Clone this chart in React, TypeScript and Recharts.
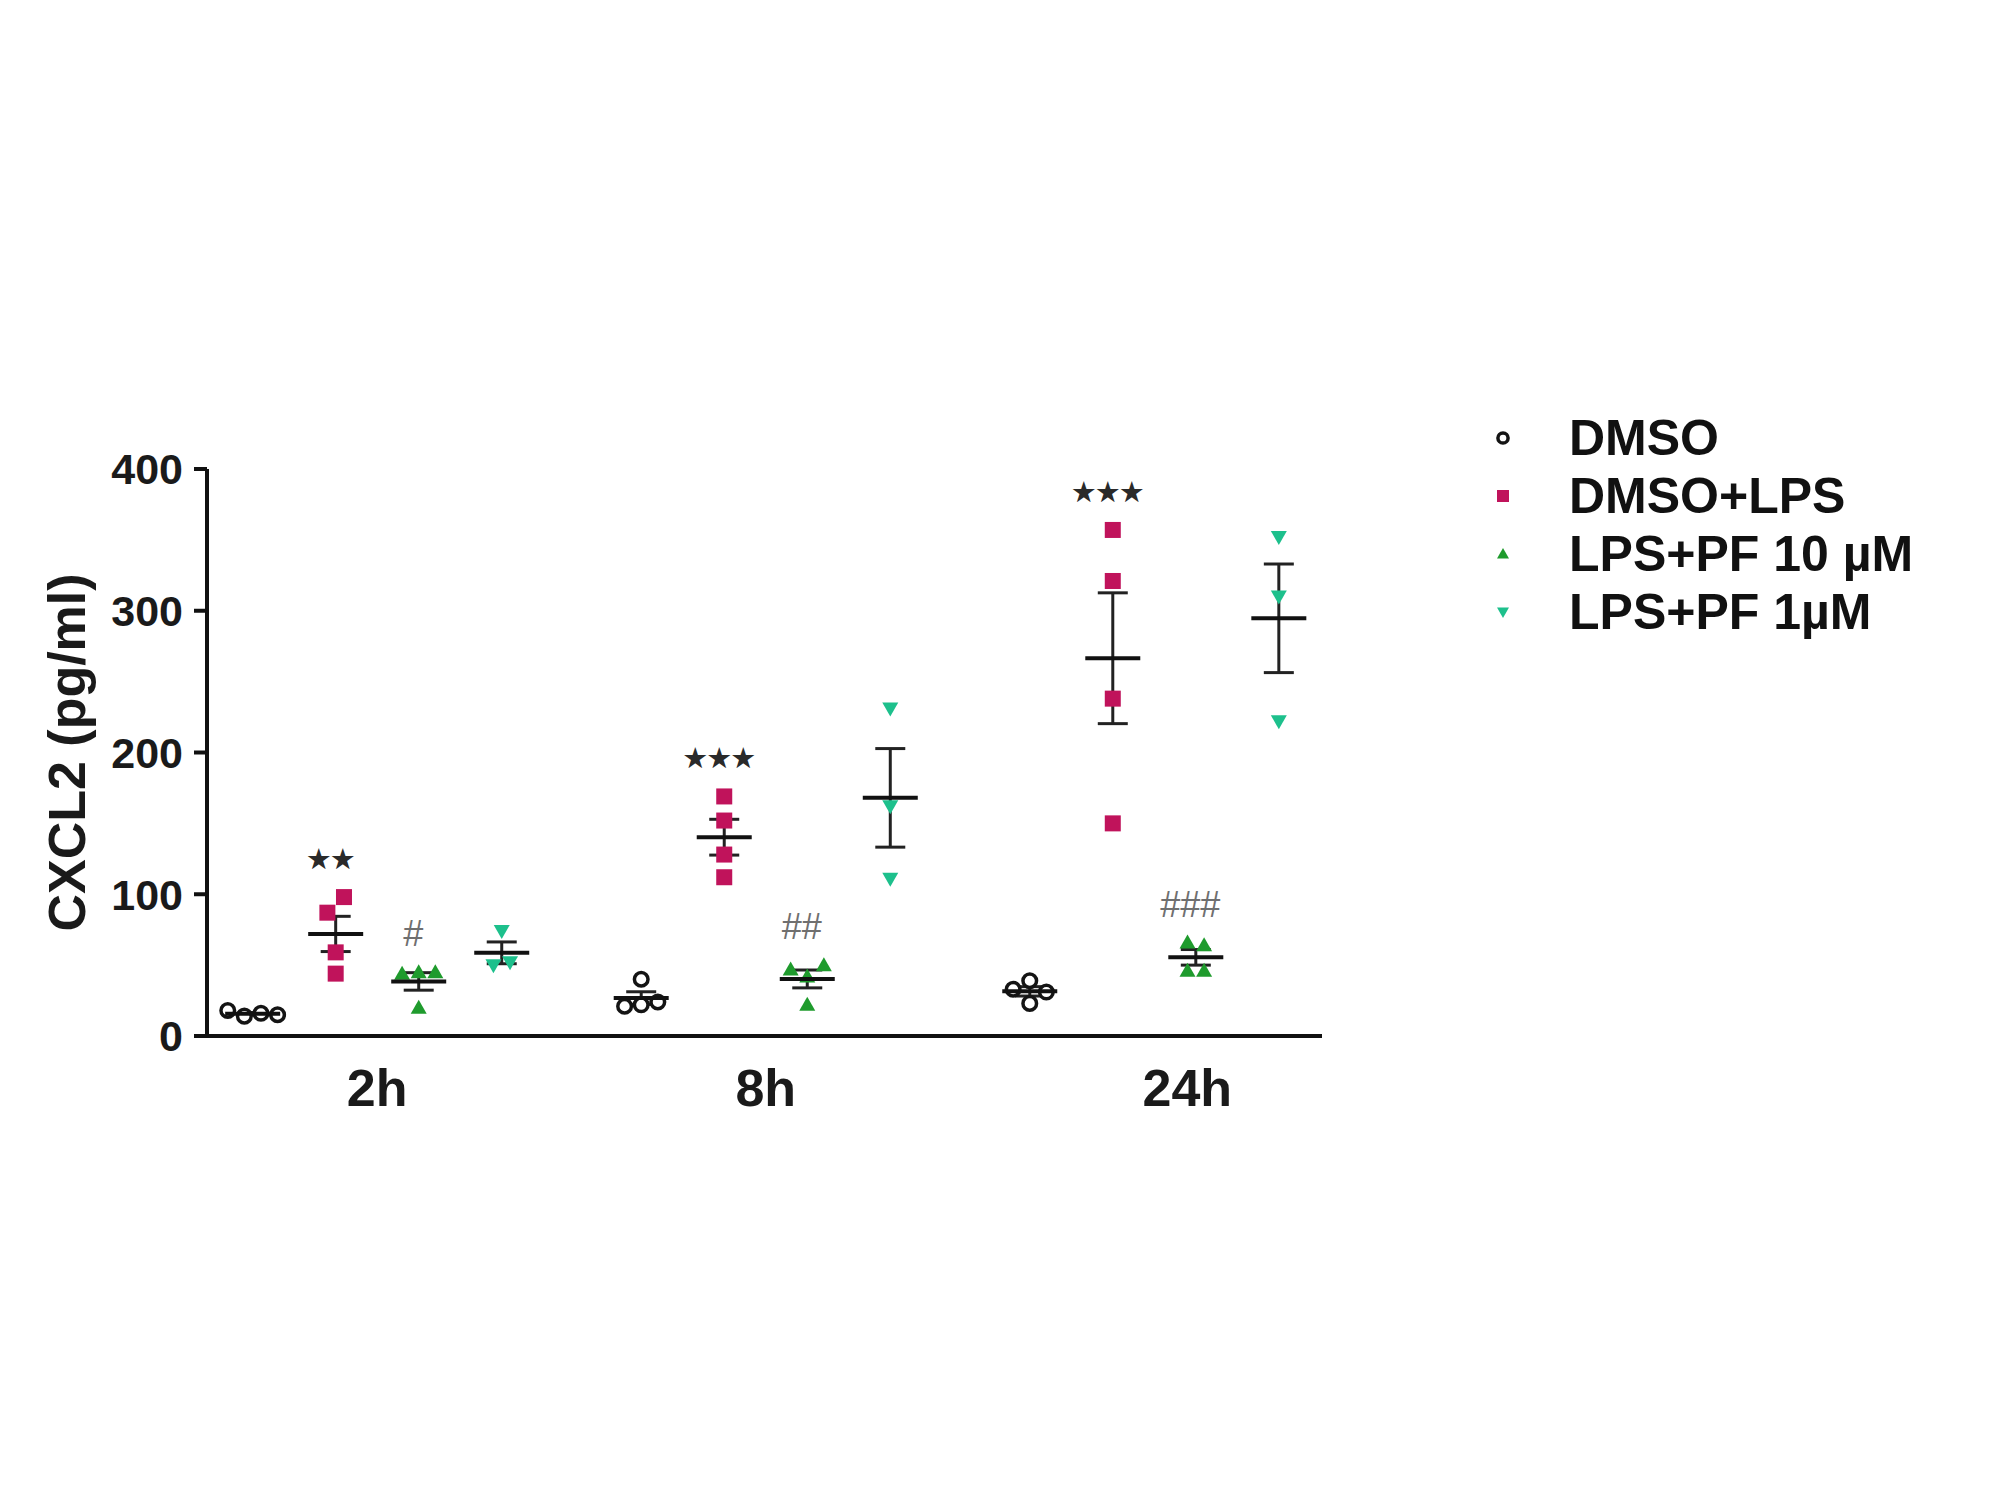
import { ErrorBar, Legend, Scatter, ScatterChart, XAxis, YAxis } from "recharts";

// values (pg/ml), one inner list per time point
const timePoints = ["2h", "8h", "24h"];
const seriesNames = ["DMSO", "DMSO+LPS", "LPS+PF 10 µM", "LPS+PF 1µM"];
const dmso = [
  [16, 14, 15, 18],
  [40, 22, 21, 24],
  [39, 33, 31, 23],
];
const dmsoLps = [
  [98, 87, 59, 44],
  [169, 152, 128, 112],
  [357, 321, 238, 150],
];
const pf10 = [
  [45, 44, 45, 20],
  [42, 47, 50, 22],
  [64, 66, 46, 46],
];
const pf1 = [
  [74, 52, 50],
  [231, 162, 111],
  [352, 310, 222],
];
const lpsStars = ["★★", "★★★", "★★★"];
const pf10Hashes = ["#", "##", "###"];
const yTicks = [0, 100, 200, 300, 400];

const FONT = '"Liberation Sans", Arial, Helvetica, sans-serif';
const W = 2000;
const H = 1500;
const MARGIN = { top: 469, right: 678, bottom: 374, left: 27 };
const Y_AXIS_W = 180;
const X_AXIS_H = 90;
const X_DOMAIN: [number, number] = [-0.55, 12.88];
const GROUP_GAP = 4.68;
const PX_PER_X = (W - MARGIN.left - Y_AXIS_W - MARGIN.right) / (X_DOMAIN[1] - X_DOMAIN[0]);
const PX_PER_Y = (H - MARGIN.top - MARGIN.bottom - X_AXIS_H) / 400;
const SWARM_STEP = 16.6;
const SWARM_GAP = 16;
const colors = ["#141414", "#c0135b", "#1f9b2d", "#1dc08c"];
const tickNudge = [0, 0, 33];
const legendRows = [38, 96, 154, 212];

const slotX = (t: number, s: number) => t * GROUP_GAP + s;

// GraphPad-like scatter: push a point sideways only when it would overlap,
// then centre each row of pushed points on the column
function swarm(vals: number[], center: number) {
  const placed: { dx: number; v: number }[] = [];
  vals.forEach((v) => {
    for (const k of [0, -1, 1, -2, 2, -3, 3]) {
      const dx = k * SWARM_STEP;
      const free = placed.every((p) => Math.hypot(p.dx - dx, (p.v - v) * PX_PER_Y) >= SWARM_GAP);
      if (free) {
        placed.push({ dx, v });
        return;
      }
    }
    placed.push({ dx: 0, v });
  });
  return placed.map((p) => {
    const row = placed.filter((q) => Math.abs(q.v - p.v) * PX_PER_Y < SWARM_GAP);
    const lo = Math.min(...row.map((q) => q.dx));
    const hi = Math.max(...row.map((q) => q.dx));
    return { x: center + (p.dx - (lo + hi) / 2) / PX_PER_X, y: p.v };
  });
}

const mean = (a: number[]) => a.reduce((s, v) => s + v, 0) / a.length;
const sem = (a: number[]) => {
  const m = mean(a);
  const sd = Math.sqrt(a.reduce((s, v) => s + (v - m) ** 2, 0) / (a.length - 1));
  return sd / Math.sqrt(a.length);
};

const groups = [dmso, dmsoLps, pf10, pf1];
const pointSeries = groups.map((byTime, s) => byTime.flatMap((vals, t) => swarm(vals, slotX(t, s))));
const summary = groups.flatMap((byTime, s) =>
  byTime.map((vals, t) => ({ x: slotX(t, s), y: mean(vals), sem: sem(vals) }))
);
const marks = [
  ...lpsStars.map((text, t) => ({ x: slotX(t, 1), y: Math.max(...dmsoLps[t]) + 27, text, kind: "star" })),
  ...pf10Hashes.map((text, t) => ({ x: slotX(t, 2), y: Math.max(...pf10[t]) + 27, text, kind: "hash" })),
];

function drawMarker(i: number, cx: number, cy: number, r: number) {
  if (i === 0)
    return <circle cx={cx} cy={cy} r={r * 0.85} fill="#fff" stroke={colors[0]} strokeWidth={3.5} />;
  if (i === 1) return <rect x={cx - r} y={cy - r} width={r * 2} height={r * 2} fill={colors[1]} />;
  if (i === 2)
    return (
      <polygon
        points={`${cx},${cy - r} ${cx - r},${cy + r * 0.75} ${cx + r},${cy + r * 0.75}`}
        fill={colors[2]}
      />
    );
  return (
    <polygon
      points={`${cx - r},${cy - r * 0.75} ${cx + r},${cy - r * 0.75} ${cx},${cy + r}`}
      fill={colors[3]}
    />
  );
}

const markerShape = (i: number) => (props: any) => drawMarker(i, props.cx, props.cy, 8);

const MeanBar = (props: any) => (
  <line x1={props.cx - 27.5} x2={props.cx + 27.5} y1={props.cy} y2={props.cy} stroke="#111" strokeWidth={4} />
);

const MarkText = (props: any) => {
  const star = props.payload.kind === "star";
  return (
    <text
      x={props.cx - 6}
      y={props.cy}
      textAnchor="middle"
      dominantBaseline="central"
      fontFamily={star ? '"DejaVu Sans", sans-serif' : FONT}
      fontSize={star ? 29 : 36}
      fontStyle={star ? "normal" : "italic"}
      fill={star ? "#2a2a2a" : "#6f6f6f"}
      letterSpacing={star ? -2 : 0}
    >
      {props.payload.text}
    </text>
  );
};

const TimeTick = (props: any) => {
  const i = props.index ?? 0;
  return (
    <text
      x={props.x + tickNudge[i]}
      y={props.y + 70}
      textAnchor="middle"
      fontFamily={FONT}
      fontWeight={700}
      fontSize={52}
      fill="#1a1a1a"
    >
      {timePoints[i]}
    </text>
  );
};

const LegendBox = () => (
  <svg width={520} height={250}>
    {seriesNames.map((name, i) => {
      const cy = legendRows[i];
      return (
        <g key={name}>
          {drawMarker(i, 23, cy, 6)}
          <text
            x={89}
            y={cy}
            dominantBaseline="central"
            fontFamily={FONT}
            fontWeight={700}
            fontSize={50}
            fill="#111"
          >
            {name}
          </text>
        </g>
      );
    })}
  </svg>
);

export default function App() {
  return (
    <div style={{ position: "absolute", left: 0, top: 0, width: W, height: H, background: "#fff", fontFamily: FONT }}>
      <ScatterChart width={W} height={H} margin={MARGIN}>
        <XAxis
          type="number"
          dataKey="x"
          domain={X_DOMAIN}
          allowDataOverflow
          ticks={timePoints.map((_, t) => slotX(t, 1.5))}
          tick={<TimeTick />}
          tickLine={false}
          tickSize={0}
          tickMargin={0}
          height={X_AXIS_H}
          axisLine={{ stroke: "#111", strokeWidth: 4 }}
          interval={0}
        />
        <YAxis
          type="number"
          dataKey="y"
          domain={[0, 400]}
          allowDataOverflow
          ticks={yTicks}
          width={Y_AXIS_W}
          tickSize={13}
          tickMargin={11}
          tickLine={{ stroke: "#111", strokeWidth: 4 }}
          axisLine={{ stroke: "#111", strokeWidth: 4 }}
          tick={{ fontSize: 43, fontWeight: 700, fill: "#1a1a1a", fontFamily: FONT }}
          label={{
            value: "CXCL2 (pg/ml)",
            angle: -90,
            position: "insideLeft",
            offset: 40,
            style: { textAnchor: "middle", fontSize: 52, fontWeight: 700, fill: "#1a1a1a", fontFamily: FONT },
          }}
        />
        <Legend
          layout="vertical"
          align="center"
          verticalAlign="middle"
          wrapperStyle={{ left: 1480, top: 400, width: 520, height: 250 }}
          content={() => <LegendBox />}
        />
        {pointSeries.map((pts, i) => (
          <Scatter
            key={seriesNames[i]}
            name={seriesNames[i]}
            data={pts}
            fill={colors[i]}
            shape={markerShape(i)}
            isAnimationActive={false}
          />
        ))}
        <Scatter data={summary} shape={MeanBar} legendType="none" isAnimationActive={false}>
          <ErrorBar dataKey="sem" direction="y" width={15} stroke="#222" strokeWidth={3} isAnimationActive={false} />
        </Scatter>
        <Scatter data={marks} shape={MarkText} legendType="none" isAnimationActive={false} />
      </ScatterChart>
    </div>
  );
}
